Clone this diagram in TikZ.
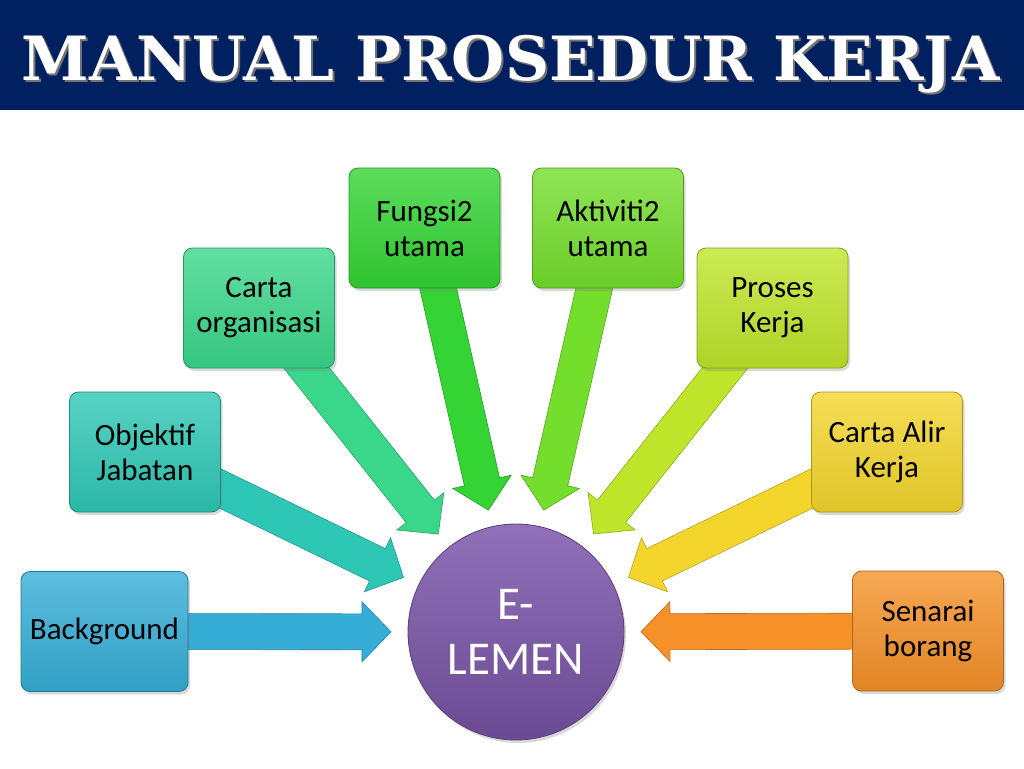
\documentclass[tikz,border=0pt]{standalone}
\usepackage{fontspec}
\usepackage{graphicx}
\setmainfont{Carlito}
\newfontfamily\titlefont{DejaVu Serif}
\usetikzlibrary{calc,shadows,backgrounds}

\definecolor{barnavy}{HTML}{002060}
\definecolor{bgblue}{HTML}{35ADD6}
\definecolor{objteal}{HTML}{2EC7B5}
\definecolor{orggreen}{HTML}{3AD78A}
\definecolor{fungsigreen}{HTML}{33D433}
\definecolor{aktgreen}{HTML}{74DE2C}
\definecolor{proseslime}{HTML}{BFE52A}
\definecolor{alirgold}{HTML}{F3D52C}
\definecolor{senaraiorange}{HTML}{F59128}
\definecolor{elemenpurple}{HTML}{7D58AC}

\tikzset{
	box/.style={rounded corners=9pt, minimum width=151pt, minimum height=120pt, align=center,
		font=\fontsize{31}{35}\selectfont, draw=#1!70!black, line width=0.8pt,
		top color=#1!80!white, bottom color=#1!92!black,
		drop shadow={opacity=0.3, shadow xshift=2pt, shadow yshift=-3pt}},
	flow/.style={fill=#1, draw=#1!75!black, line width=0.6pt},
	hub/.style={circle, minimum size=216pt, inner sep=0pt, align=center, text=white,
		font=\fontsize{47}{55}\selectfont, draw=elemenpurple!70!black, line width=0.8pt,
		top color=elemenpurple!85!white, bottom color=elemenpurple!85!black,
		drop shadow={opacity=0.3, shadow xshift=2pt, shadow yshift=-3pt}},
}

\newcommand{\flowarrow}[2]{%
	\coordinate (tip) at ($(elemen.center)!125pt!(#1.center)$);
	\coordinate (base) at ($(tip)!29pt!(#1.center)$);
	\filldraw[flow=#2] ($(#1.center)!18pt!90:(tip)$) -- ($(base)!18pt!90:(tip)$) -- ($(base)!30pt!90:(tip)$)
		-- (tip) -- ($(base)!30pt!-90:(tip)$) -- ($(base)!18pt!-90:(tip)$) -- ($(#1.center)!18pt!-90:(tip)$) -- cycle;
}

\begin{document}
\begin{tikzpicture}[x=1pt, y=-1pt]
	\useasboundingbox (0,0) rectangle (1024,768);
	\fill[barnavy] (0,0) rectangle (1024,110);
	\node[anchor=base, inner sep=0pt, text=black!55, font=\titlefont\bfseries] at (513,82) {\resizebox{978pt}{!}{MANUAL PROSEDUR KERJA}};
	\node[anchor=base, inner sep=0pt, text=white, font=\titlefont\bfseries] (title) at (511,80) {\resizebox{978pt}{!}{MANUAL PROSEDUR KERJA}};

	\node[hub] (elemen) at (516,632) {E-\\LEMEN};

	\node[box=bgblue, minimum width=167pt] (bg) at (104.5,631.5) {Background};
	\node[box=objteal] (obj) at (145,452) {Objektif\\Jabatan};
	\node[box=orggreen] (org) at (259,308) {Carta\\organisasi};
	\node[box=fungsigreen] (fungsi) at (424.5,228) {Fungsi2\\utama};
	\node[box=aktgreen] (aktiviti) at (608,228) {Aktiviti2\\utama};
	\node[box=proseslime] (proses) at (772.5,308) {Proses\\Kerja};
	\node[box=alirgold] (alir) at (887,452) {Carta Alir\\Kerja};
	\node[box=senaraiorange] (senarai) at (928,631) {Senarai\\borang};

	\begin{scope}[on background layer]
		\flowarrow{bg}{bgblue}
		\flowarrow{obj}{objteal}
		\flowarrow{org}{orggreen}
		\flowarrow{fungsi}{fungsigreen}
		\flowarrow{aktiviti}{aktgreen}
		\flowarrow{proses}{proseslime}
		\flowarrow{alir}{alirgold}
		\flowarrow{senarai}{senaraiorange}
	\end{scope}
\end{tikzpicture}
\end{document}
